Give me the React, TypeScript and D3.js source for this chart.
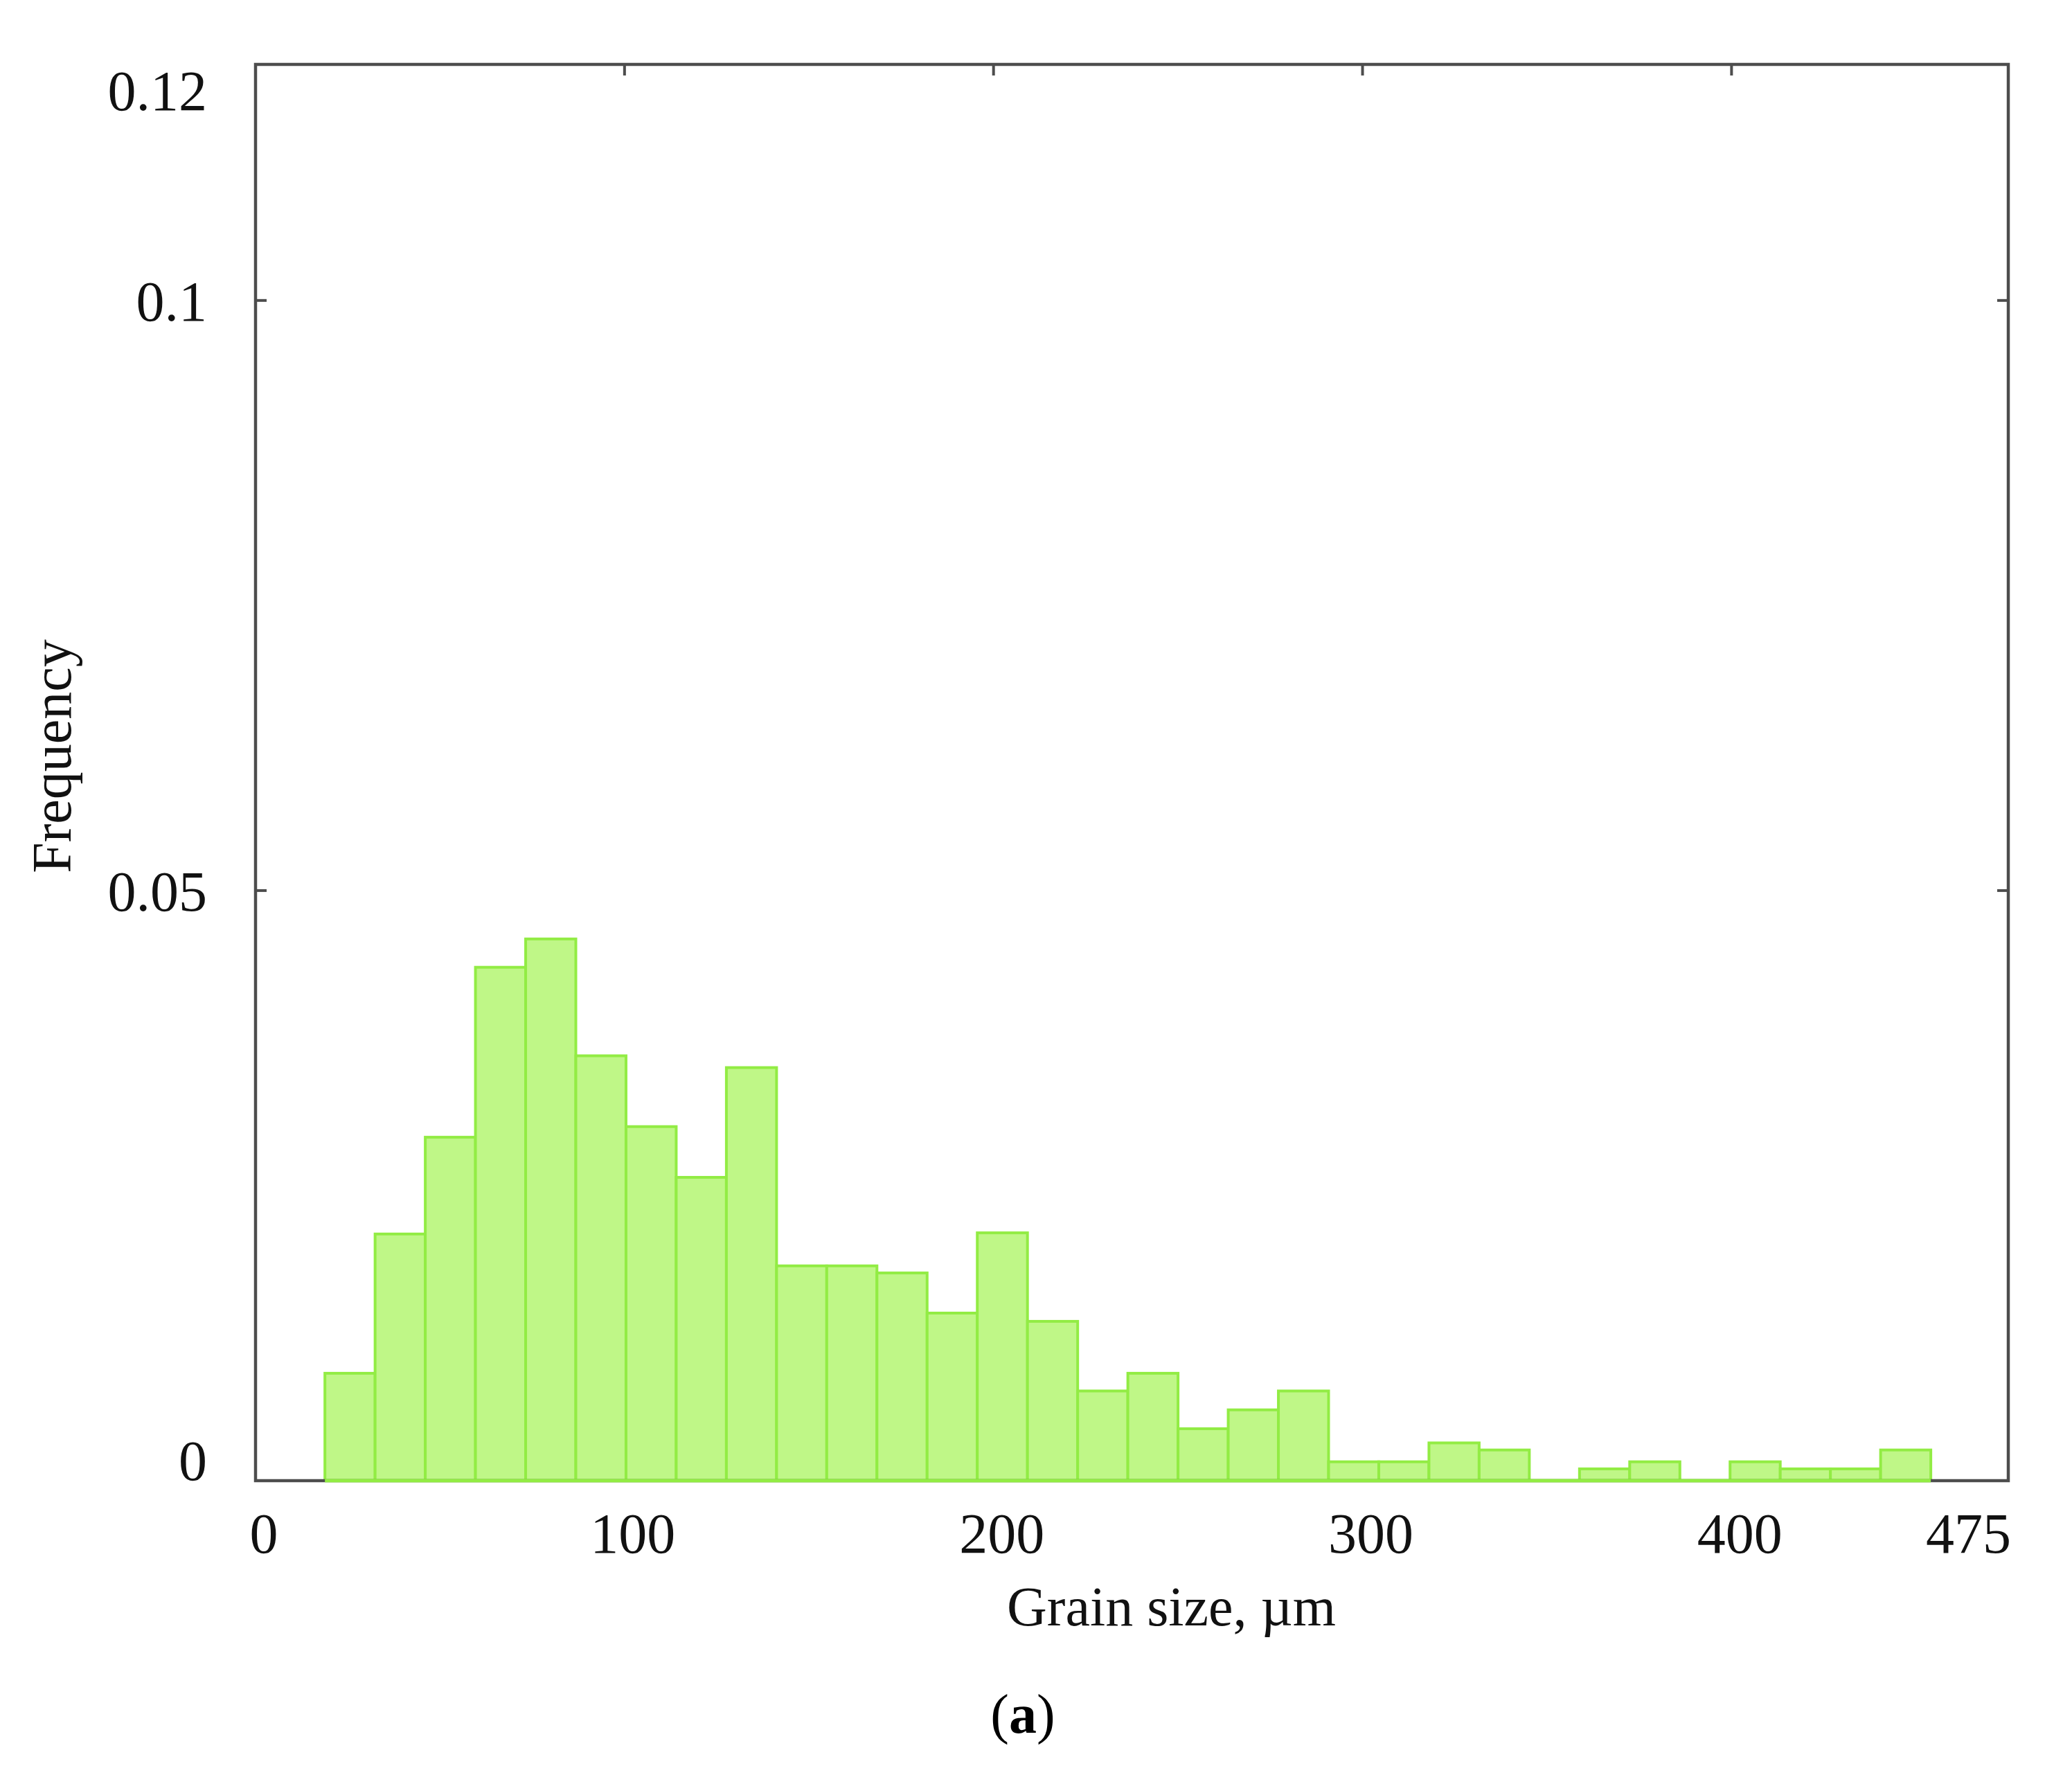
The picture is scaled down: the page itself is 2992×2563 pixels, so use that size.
import { useMemo } from "react";
import { scaleLinear } from "d3";

// histogram of grain sizes, 32 equal bins
const binStart = 18.8;
const binWidth = 13.6;
const frequency = [
  0.0091, 0.0209, 0.0291, 0.0435, 0.0459, 0.036, 0.03, 0.0257, 0.035, 0.0182,
  0.0182, 0.0176, 0.0142, 0.021, 0.0135, 0.0076, 0.0091, 0.0044, 0.006, 0.0076,
  0.0016, 0.0016, 0.0032, 0.0026, 0, 0.001, 0.0016, 0, 0.0016, 0.001, 0.001,
  0.0026,
];
const xTicks = [0, 100, 200, 300, 400, 475];
const yTicks = [0, 0.05, 0.1, 0.12];
const xLabel = "Grain size, µm";
const yLabel = "Frequency";
const panel = "a";

const width = 2992;
const height = 2563;
const margin = { top: 93, right: 92, bottom: 425, left: 369 };
const axisColor = "#4d4d4d";
const serif = "'Liberation Serif', 'Times New Roman', serif";

const App = () => {
  const innerWidth = width - margin.left - margin.right;
  const innerHeight = height - margin.top - margin.bottom;

  const xScale = useMemo(
    () => scaleLinear().domain([0, 475]).range([0, innerWidth]),
    [innerWidth]
  );
  const yScale = useMemo(
    () => scaleLinear().domain([0, 0.12]).range([innerHeight, 0]),
    [innerHeight]
  );

  const bins = frequency.map((f, i) => ({
    x0: binStart + i * binWidth,
    x1: binStart + (i + 1) * binWidth,
    f,
  }));
  const tick = 16;

  return (
    <svg
      width={width}
      height={height}
      style={{ position: "absolute", left: 0, top: 0, background: "#fff" }}
    >
      <g transform={`translate(${margin.left}, ${margin.top})`}>
        {bins
          .filter((b) => b.f > 0)
          .map((b, i) => (
            <rect
              key={i}
              x={xScale(b.x0)}
              y={yScale(b.f)}
              width={xScale(b.x1) - xScale(b.x0)}
              height={yScale(0) - yScale(b.f)}
              fill="#bff787"
              stroke="#92ec44"
              strokeWidth={4}
            />
          ))}

        {/* frame */}
        <rect
          x={0}
          y={0}
          width={innerWidth}
          height={innerHeight}
          fill="none"
          stroke={axisColor}
          strokeWidth={4.5}
        />
        {/* green baseline under the bins */}
        <line
          x1={xScale(bins[0].x0)}
          x2={xScale(bins[bins.length - 1].x1)}
          y1={yScale(0)}
          y2={yScale(0)}
          stroke="#92ec44"
          strokeWidth={5}
        />

        {/* x ticks on top, pointing inward */}
        {xTicks.slice(1, -1).map((t) => (
          <line
            key={t}
            x1={xScale(t)}
            x2={xScale(t)}
            y1={0}
            y2={tick}
            stroke={axisColor}
            strokeWidth={4}
          />
        ))}
        {xTicks.map((t, i) => {
          const last = i === xTicks.length - 1;
          return (
            <text
              key={t}
              x={last ? xScale(t) + 4 : xScale(t) + 12}
              y={innerHeight + 104}
              textAnchor={last ? "end" : "middle"}
              fontFamily={serif}
              fontSize={82}
              fill="#111"
            >
              {t}
            </text>
          );
        })}

        {/* y ticks, left and right, pointing inward */}
        {yTicks.slice(1, -1).map((t) => (
          <g key={t}>
            <line
              x1={0}
              x2={tick}
              y1={yScale(t)}
              y2={yScale(t)}
              stroke={axisColor}
              strokeWidth={4}
            />
            <line
              x1={innerWidth - tick}
              x2={innerWidth}
              y1={yScale(t)}
              y2={yScale(t)}
              stroke={axisColor}
              strokeWidth={4}
            />
          </g>
        ))}
        {yTicks.map((t, i) => {
          const shift = i === 0 ? -30 : i === yTicks.length - 1 ? 37 : 0;
          return (
            <text
              key={t}
              x={-70}
              y={yScale(t) + shift}
              dy="0.35em"
              textAnchor="end"
              fontFamily={serif}
              fontSize={82}
              fill="#111"
            >
              {t}
            </text>
          );
        })}

        <text
          x={innerWidth / 2 + 57}
          y={innerHeight + 209}
          textAnchor="middle"
          fontFamily={serif}
          fontSize={80}
          fill="#111"
        >
          {xLabel}
        </text>
        <text
          transform={`translate(${102 - margin.left}, ${1092 - margin.top}) rotate(-90)`}
          textAnchor="middle"
          fontFamily={serif}
          fontSize={80}
          fill="#111"
        >
          {yLabel}
        </text>
      </g>
      <text
        x={1477}
        y={2502}
        textAnchor="middle"
        fontFamily={serif}
        fontSize={80}
        fill="#000"
      >
        (<tspan fontWeight="bold">{panel}</tspan>)
      </text>
    </svg>
  );
};

export default App;
